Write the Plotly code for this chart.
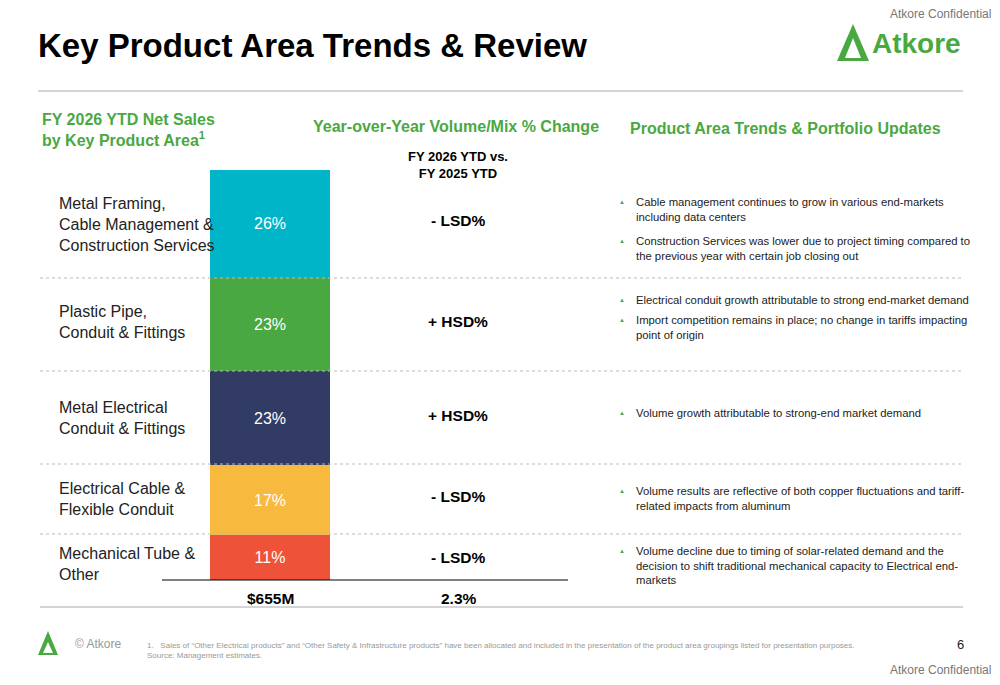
import plotly.graph_objects as go

areas = ["Metal Framing,<br>Cable Management &<br>Construction Services",
         "Plastic Pipe,<br>Conduit & Fittings",
         "Metal Electrical<br>Conduit & Fittings",
         "Electrical Cable &<br>Flexible Conduit",
         "Mechanical Tube &<br>Other"]
shares = [26, 23, 23, 17, 11]
colors = ["#00B5C8", "#4AA842", "#323B63", "#F8B93F", "#EE5339"]
changes = ["- LSD%", "+ HSD%", "+ HSD%", "- LSD%", "- LSD%"]
bullets = [
    ["Cable management continues to grow in various end-markets<br>including data centers",
     "Construction Services was lower due to project timing compared to<br>the previous year with certain job closing out"],
    ["Electrical conduit growth attributable to strong end-market demand",
     "Import competition remains in place; no change in tariffs impacting<br>point of origin"],
    ["Volume growth attributable to strong-end market demand"],
    ["Volume results are reflective of both copper fluctuations and tariff-<br>related impacts from aluminum"],
    ["Volume decline due to timing of solar-related demand and the<br>decision to shift traditional mechanical capacity to Electrical end-<br>markets"],
]
total_sales = "$655M"
total_change = "2.3%"

W, H = 1000, 685
OX, OY = 8, 8  # page offset of the figure in the screenshot
FONT = "Liberation Sans Narrow, Liberation Sans, Arial"
GREEN = "#4AA842"

def px(x): return (x - OX) / W
def py(y): return 1 - (y - OY) / H

fig = go.Figure()
for i in reversed(range(len(shares))):
    fig.add_trace(go.Bar(x=[0], y=[shares[i]], marker=dict(color=colors[i], line=dict(width=0)),
                         text=[f"{shares[i]}%"], textposition="inside", insidetextanchor="middle",
                         textfont=dict(color="white", size=16, family=FONT), showlegend=False,
                         hoverinfo="skip"))

ann = []
def t(x, y, s, size=14, color="#222", bold=False, xa="left", ya="middle", align="left"):
    ann.append(dict(x=px(x), y=py(y), xref="paper", yref="paper", text=f"<b>{s}</b>" if bold else s,
                    showarrow=False, xanchor=xa, yanchor=ya, align=align,
                    font=dict(size=size, color=color, family=FONT)))

shapes = []
def line(x0, y0, x1, y1, color="#bbb", width=1, dash="solid"):
    shapes.append(dict(type="line", xref="paper", yref="paper", x0=px(x0), x1=px(x1),
                       y0=py(y0), y1=py(y1), line=dict(color=color, width=width, dash=dash)))
def path(pts, color):
    d = "M " + " L ".join(f"{px(x)},{py(y)}" for x, y in pts) + " Z"
    shapes.append(dict(type="path", xref="paper", yref="paper", path=d, fillcolor=color, line=dict(width=0)))

t(36, 46, "Key Product Area Trends & Review", 33, "#000", True)
t(993, 14, "Atkore Confidential", 12, "#777", xa="right")
t(993, 670, "Atkore Confidential", 12, "#777", xa="right")
path([(837, 61), (853, 24), (869, 61)], GREEN)
path([(845, 58), (853, 38), (861, 58)], "white")
t(870, 44, "Atkore", 28, GREEN, True)
line(38, 91, 963, 91, "#aaa")

t(40, 130, "FY 2026 YTD Net Sales<br>by Key Product Area<sup>1</sup>", 16, GREEN, True)
t(456, 127, "Year-over-Year Volume/Mix % Change", 16, GREEN, True, xa="center")
t(785, 128, "Product Area Trends & Portfolio Updates", 16, GREEN, True, xa="center")
t(458, 165, "FY 2026 YTD vs.<br>FY 2025 YTD", 13, "#000", True, xa="center", align="center")

cy = [221, 321, 415, 496, 557]
lab_y = [224, 322, 418, 499, 564]
bul_y = [[212, 251], [301, 330], [414], [501], [570]]
for i in range(5):
    t(57, lab_y[i], areas[i], 16, "#222")
    t(458, cy[i], changes[i], 15.5, "#000", True, xa="center")
    for j, b in enumerate(bullets[i]):
        by = bul_y[i][j]
        nlines = b.count("<br>") + 1
        top = by - nlines * 9
        t(622, top + 8, "▲", 6, GREEN, xa="center")
        t(634, top, b, 11.3, "#222", ya="top")

for y in [278, 371, 464, 534]:
    line(40, y, 963, y, "#bbb", 1, "dot")
line(162, 580, 568, 580, "#000", 1.2)
line(40, 607, 963, 607, "#aaa")
t(270, 598, total_sales, 15.5, "#000", True, xa="center")
t(459, 598, total_change, 15.5, "#000", True, xa="center")

path([(38, 655), (48, 631), (58, 655)], GREEN)
path([(43, 653), (48, 642), (53, 653)], "white")
t(73, 644, "© Atkore", 12, "#999")
t(145, 650, "1.&nbsp;&nbsp;&nbsp;Sales of “Other Electrical products” and “Other Safety & Infrastructure products” have been allocated and included in the presentation of the product area groupings listed for presentation purposes.<br>Source: Management estimates.",
  8, "#999")
t(960, 644, "6", 13, "#222", xa="center")

fig.update_layout(
    width=W, height=H, margin=dict(l=0, r=0, t=0, b=0), paper_bgcolor="white", plot_bgcolor="white",
    barmode="stack", bargap=0,
    xaxis=dict(domain=[px(210), px(330)], range=[-0.5, 0.5], visible=False, fixedrange=True),
    yaxis=dict(domain=[py(580), py(170)], range=[0, 100], visible=False, fixedrange=True),
    annotations=ann, shapes=shapes, uniformtext=dict(mode="show", minsize=10),
)
fig.write_html("out.html", config={"displayModeBar": False})
